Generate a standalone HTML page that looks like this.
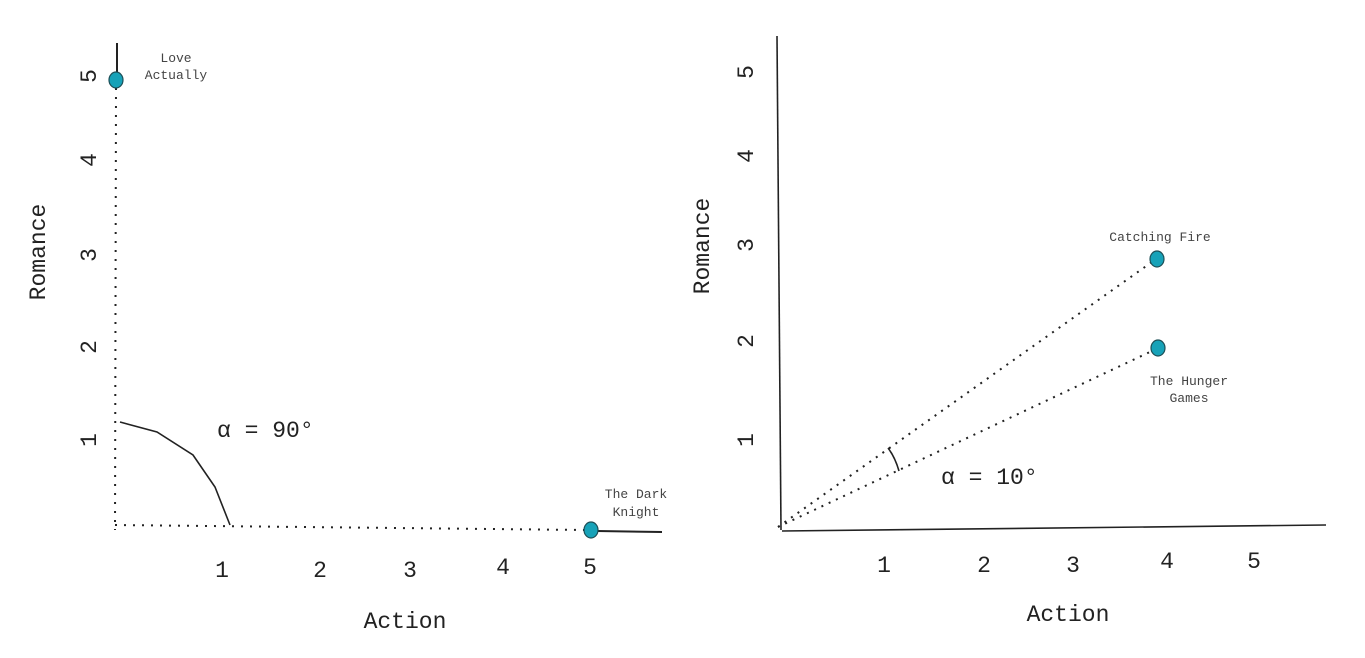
<!DOCTYPE html>
<html><head><meta charset="utf-8"><style>
html,body{margin:0;padding:0;background:#fff;width:1365px;height:658px;overflow:hidden}
svg{display:block}
.m{font-family:"Liberation Mono","DejaVu Sans Mono",monospace;fill:#222}
.s{font-size:13px;fill:#444}
.t{font-size:23px}
</style></head><body>
<svg width="1365" height="658" viewBox="0 0 1365 658" xmlns="http://www.w3.org/2000/svg">
<g stroke="#222" fill="none">
<line x1="117" y1="43" x2="117" y2="80" stroke-width="2"/>
<line x1="116" y1="88" x2="115" y2="530" stroke-width="2" stroke-dasharray="2 7"/>
<line x1="115" y1="525" x2="585" y2="530" stroke-width="2" stroke-dasharray="2 7"/>
<line x1="597" y1="531" x2="662" y2="532" stroke-width="2"/>
<polyline points="120,422 157,432 193,455 215,487 230,525" stroke-width="1.6"/>
<line x1="777" y1="36" x2="781" y2="530" stroke-width="1.6"/>
<line x1="782" y1="531" x2="1326" y2="525" stroke-width="1.6"/>
<line x1="778" y1="527" x2="1152" y2="262" stroke-width="2" stroke-dasharray="2 6"/>
<line x1="778" y1="527" x2="1152" y2="351" stroke-width="2" stroke-dasharray="2 6"/>
<path d="M888,448 Q895,457 899,471" stroke-width="1.6"/>
</g>
<g fill="#17a2b8" stroke="#1d4f57" stroke-width="1.2">
<ellipse cx="116" cy="80" rx="7" ry="8"/>
<ellipse cx="591" cy="530" rx="7" ry="8"/>
<ellipse cx="1157" cy="259" rx="7" ry="8"/>
<ellipse cx="1158" cy="348" rx="7" ry="8"/>
</g>
<g class="m s" text-anchor="middle">
<text x="176" y="62">Love</text><text x="176" y="79">Actually</text>
<text x="636" y="498">The Dark</text><text x="636" y="516">Knight</text>
<text x="1160" y="241">Catching Fire</text>
<text x="1189" y="385">The Hunger</text><text x="1189" y="402">Games</text>
</g>
<g class="m t" text-anchor="middle">
<text x="222" y="577">1</text><text x="320" y="577">2</text><text x="410" y="577">3</text><text x="503" y="574">4</text><text x="590" y="574">5</text>
<text x="405" y="628">Action</text>
<text x="884" y="572">1</text><text x="984" y="572">2</text><text x="1073" y="572">3</text><text x="1167" y="568">4</text><text x="1254" y="568">5</text>
<text x="1068" y="621">Action</text>
<text transform="translate(96,76) rotate(-90)">5</text>
<text transform="translate(96,160) rotate(-90)">4</text>
<text transform="translate(96,255) rotate(-90)">3</text>
<text transform="translate(96,347) rotate(-90)">2</text>
<text transform="translate(96,440) rotate(-90)">1</text>
<text transform="translate(45,252) rotate(-90)">Romance</text>
<text transform="translate(753,72) rotate(-90)">5</text>
<text transform="translate(753,156) rotate(-90)">4</text>
<text transform="translate(753,245) rotate(-90)">3</text>
<text transform="translate(753,341) rotate(-90)">2</text>
<text transform="translate(753,440) rotate(-90)">1</text>
<text transform="translate(709,246) rotate(-90)">Romance</text>
</g>
<text class="m t" x="217" y="437">α = 90°</text>
<text class="m t" x="941" y="484">α = 10°</text>
</svg>
</body></html>
